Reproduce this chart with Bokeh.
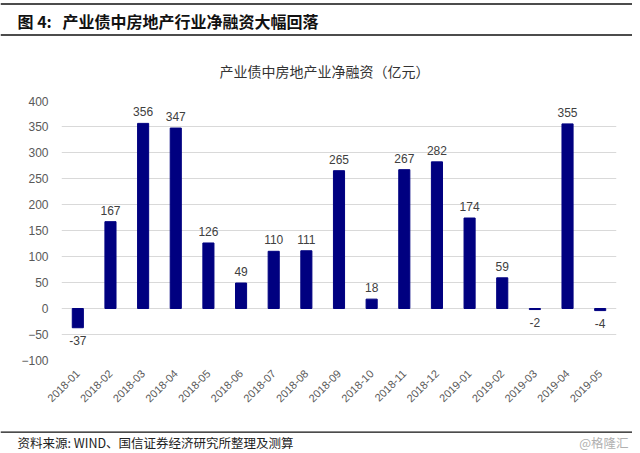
from bokeh.plotting import figure
from bokeh.models import ColumnDataSource, Range1d, FixedTicker, Span
from bokeh.layouts import column
from bokeh.core.properties import value
from bokeh.embed import file_html
from bokeh.resources import INLINE
import math

# ---- data ----
months = ["2018-01", "2018-02", "2018-03", "2018-04", "2018-05", "2018-06",
          "2018-07", "2018-08", "2018-09", "2018-10", "2018-11", "2018-12",
          "2019-01", "2019-02", "2019-03", "2019-04", "2019-05"]
net_financing = [-37, 167, 356, 347, 126, 49, 110, 111, 265, 18, 267, 282,
                 174, 59, -2, 355, -4]
y_ticks = [-100, -50, 0, 50, 100, 150, 200, 250, 300, 350, 400]

header_num = "图 4:"
header_text = "产业债中房地产行业净融资大幅回落"
chart_title = "产业债中房地产业净融资（亿元）"
source_text = "资料来源: WIND、国信证券经济研究所整理及测算"
watermark = "@格隆汇"

CJK = "Noto Sans CJK SC"
LAT = "Liberation Sans"
BAR = "#000080"

W = 632
H_HEAD, H_MAIN, H_FOOT = 96, 332, 25


def blank(h):
    f = figure(width=W, height=h, x_range=Range1d(0, W), y_range=Range1d(h, 0),
               x_axis_type=None, y_axis_type=None,
               output_backend="svg", toolbar_location=None,
               min_border=0, min_border_left=0, min_border_right=0,
               min_border_top=0, min_border_bottom=0)
    f.frame_align = False
    f.grid.visible = False
    f.outline_line_color = None
    f.background_fill_color = "white"
    f.border_fill_color = "white"
    return f


# ---- header ----
head = blank(H_HEAD)
head.add_layout(Span(location=3.5, dimension="width", line_color="#111111", line_width=1.5))
head.add_layout(Span(location=34.5, dimension="width", line_color="#111111", line_width=1.5))
head.text(x=[17], y=[20.5], text=[header_num], text_font=value(CJK),
          text_font_style="bold", text_font_size="16px", text_color="#111111",
          text_baseline="middle", text_align="left")
head.text(x=[62], y=[20.5], text=[header_text], text_font=value(CJK),
          text_font_style="bold", text_font_size="16px", text_color="#111111",
          text_baseline="middle", text_align="left")
head.text(x=[324], y=[70], text=[chart_title], text_font=value(CJK),
          text_font_size="14px", text_color="#333333",
          text_baseline="middle", text_align="center")

# ---- main chart ----
p = figure(width=W, height=H_MAIN, x_range=months, y_range=Range1d(-100, 400),
           output_backend="svg", toolbar_location=None,
           min_border_left=61, min_border_right=W - 616,
           min_border_top=4, min_border_bottom=68)
p.frame_align = False
p.outline_line_color = None
p.background_fill_color = "white"
p.border_fill_color = "white"

src = ColumnDataSource(dict(m=months, v=net_financing))
p.vbar(x="m", top="v", bottom=0, width=0.34, source=src,
       fill_color=BAR, line_color=BAR)

pos = ColumnDataSource(dict(m=[m for m, v in zip(months, net_financing) if v >= 0],
                            v=[v for v in net_financing if v >= 0],
                            lbl=[str(v) for v in net_financing if v >= 0]))
neg = ColumnDataSource(dict(m=[m for m, v in zip(months, net_financing) if v < 0],
                            v=[v for v in net_financing if v < 0],
                            lbl=[str(v) for v in net_financing if v < 0]))
p.text(x="m", y="v", text="lbl", source=pos, text_align="center",
       text_baseline="bottom", y_offset=-7, text_font=value(LAT),
       text_font_size="12px", text_color="#404040")
p.text(x="m", y="v", text="lbl", source=neg, text_align="center",
       text_baseline="top", y_offset=8, text_font=value(LAT),
       text_font_size="12px", text_color="#404040")

p.yaxis.ticker = FixedTicker(ticks=y_ticks)
p.yaxis.axis_line_color = None
p.yaxis.major_tick_line_color = None
p.yaxis.minor_tick_line_color = None
p.yaxis.major_label_standoff = 7
p.yaxis.major_label_text_font = LAT
p.yaxis.major_label_text_font_size = "12px"
p.yaxis.major_label_text_color = "#595959"

p.xaxis.axis_line_color = None
p.xaxis.major_tick_line_color = None
p.xaxis.major_label_orientation = math.pi / 4
p.xaxis.major_label_standoff = 5
p.xaxis.major_label_text_font = LAT
p.xaxis.major_label_text_font_size = "11px"
p.xaxis.major_label_text_color = "#595959"

p.xgrid.grid_line_color = None
p.ygrid.grid_line_color = "#d9d9d9"
p.ygrid.ticker = FixedTicker(ticks=y_ticks)

# ---- footer ----
foot = blank(H_FOOT)
foot.add_layout(Span(location=3.7, dimension="width", line_color="#111111", line_width=1.2))
foot.text(x=[17], y=[13.7], text=[source_text], text_font=value(CJK),
          text_font_size="12.5px", text_color="#222222",
          text_baseline="middle", text_align="left")
foot.text(x=[W - 4], y=[13.7], text=[watermark], text_font=value(CJK),
          text_font_size="12.5px", text_color="#b0b0b0",
          text_baseline="middle", text_align="right")

layout = column(head, p, foot, spacing=0)
open("out.html", "w").write(file_html(layout, INLINE))
